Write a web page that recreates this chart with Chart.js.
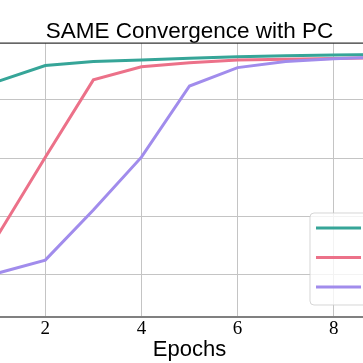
<!DOCTYPE html>
<html><head><meta charset="utf-8">
<script src="https://cdn.jsdelivr.net/npm/chart.js@4"></script>
<style>
html,body{margin:0;padding:0;background:#fff;overflow:hidden;}
#frame{position:relative;width:363px;height:363px;overflow:hidden;background:#fff;}
#c{position:absolute;left:-72px;top:0;}
</style></head><body>
<div id="frame"><canvas id="c" width="523" height="363"></canvas></div>
<script>
// ---- data ----
const epochs = [1, 2, 3, 4, 5, 6, 7, 8, 9];
const seriesNames = ['Dataset 1', 'Dataset 2', 'Dataset 3'];
const tealValues   = [0.863, 0.918, 0.932, 0.937, 0.943, 0.948, 0.952, 0.954, 0.956];
const pinkValues   = [0.333, 0.604, 0.869, 0.914, 0.928, 0.937, 0.940, 0.942, 0.945];
const purpleValues = [0.206, 0.251, 0.423, 0.604, 0.848, 0.911, 0.932, 0.941, 0.947];
const xTicks = [2, 4, 6, 8];
const yTicks = [0.2, 0.4, 0.6, 0.8];
const titleText = 'SAME Convergence with PC';
const xTitleText = 'Epochs';

// ---- styles ----
const colors = ['#36a598', '#ec7189', '#a18cec'];
const seriesValues = [tealValues, pinkValues, purpleValues];

const datasets = seriesValues.map((vals, i) => ({
  label: seriesNames[i],
  data: epochs.map((e, j) => ({x: e, y: vals[j]})),
  borderColor: colors[i],
  backgroundColor: colors[i],
  borderWidth: 3,
  pointRadius: 0,
  tension: 0,
  fill: false,
  order: 2 - i
}));

const frameAndLegend = {
  id: 'frameAndLegend',
  afterDraw(chart) {
    const ctx = chart.ctx, ca = chart.chartArea;
    // top spine
    ctx.save();
    ctx.strokeStyle = '#333333';
    ctx.lineWidth = 1.3;
    ctx.beginPath();
    ctx.moveTo(ca.left, ca.top + 0.2);
    ctx.lineTo(ca.right, ca.top + 0.2);
    ctx.stroke();
    // legend box (lower right, inside the axes)
    const fs = 22;
    ctx.font = fs + 'px "Liberation Sans", Arial, sans-serif';
    const bx = ca.left + 332, by = ca.top + 170, bh = 92;
    const handleLen = 45, textGap = 17;
    let tw = 0;
    seriesNames.forEach(n => { tw = Math.max(tw, ctx.measureText(n).width); });
    const bw = 6 + handleLen + textGap + tw + 8;
    const r = 4;
    ctx.beginPath();
    ctx.moveTo(bx + r, by);
    ctx.lineTo(bx + bw - r, by);
    ctx.quadraticCurveTo(bx + bw, by, bx + bw, by + r);
    ctx.lineTo(bx + bw, by + bh - r);
    ctx.quadraticCurveTo(bx + bw, by + bh, bx + bw - r, by + bh);
    ctx.lineTo(bx + r, by + bh);
    ctx.quadraticCurveTo(bx, by + bh, bx, by + bh - r);
    ctx.lineTo(bx, by + r);
    ctx.quadraticCurveTo(bx, by, bx + r, by);
    ctx.closePath();
    ctx.fillStyle = 'rgba(255,255,255,0.8)';
    ctx.fill();
    ctx.strokeStyle = 'rgba(204,204,204,0.8)';
    ctx.lineWidth = 1;
    ctx.stroke();
    const rowY = [15, 44.5, 74];
    seriesNames.forEach((n, i) => {
      const y = by + rowY[i];
      ctx.strokeStyle = colors[i];
      ctx.lineWidth = 3;
      ctx.beginPath();
      ctx.moveTo(bx + 6, y);
      ctx.lineTo(bx + 6 + handleLen, y);
      ctx.stroke();
      ctx.fillStyle = '#000';
      ctx.textBaseline = 'middle';
      ctx.textAlign = 'left';
      ctx.fillText(n, bx + 6 + handleLen + textGap, y);
    });
    ctx.restore();
  }
};

new Chart(document.getElementById('c'), {
  type: 'line',
  data: { datasets },
  options: {
    responsive: false,
    animation: false,
    devicePixelRatio: 1,
    layout: { padding: 0 },
    plugins: {
      legend: { display: false },
      tooltip: { enabled: false },
      title: {
        display: true,
        text: titleText,
        color: '#000',
        font: { family: '"Liberation Sans", Arial, sans-serif', size: 22.5, weight: 'normal', lineHeight: 1.0 },
        padding: { top: 20.2, bottom: 0.3 }
      }
    },
    scales: {
      x: {
        type: 'linear',
        min: 0.6,
        max: 9.4,
        afterBuildTicks: s => { s.ticks = xTicks.map(v => ({ value: v })); },
        afterFit: s => { s.height = 46; },
        grid: { color: '#c4c4c4', lineWidth: 1, drawTicks: false },
        border: { display: true, color: '#808080', width: 2 },
        ticks: {
          color: '#000',
          padding: 1,
          maxRotation: 0,
          font: { family: '"Liberation Serif", "Times New Roman", serif', size: 19 },
          callback: v => String(v)
        },
        title: {
          display: true,
          text: xTitleText,
          color: '#000',
          font: { family: '"Liberation Sans", Arial, sans-serif', size: 22, lineHeight: 1.2 },
          padding: { top: 0, bottom: 0 }
        }
      },
      y: {
        type: 'linear',
        min: 0.056,
        max: 0.9954,
        afterBuildTicks: s => { s.ticks = yTicks.map(v => ({ value: v })); },
        afterFit: s => { s.width = 50; },
        grid: { color: '#c4c4c4', lineWidth: 1, drawTicks: false },
        border: { display: false },
        ticks: {
          color: '#000',
          padding: 4,
          font: { family: '"Liberation Serif", "Times New Roman", serif', size: 19 },
          callback: v => v.toFixed(1)
        }
      },
      yRight: {
        type: 'linear',
        position: 'right',
        display: true,
        min: 0,
        max: 1,
        afterFit: s => { s.width = 50; },
        grid: { display: false, drawTicks: false },
        border: { display: false },
        ticks: { display: false }
      }
    }
  },
  plugins: [frameAndLegend]
});
</script>
</body></html>
